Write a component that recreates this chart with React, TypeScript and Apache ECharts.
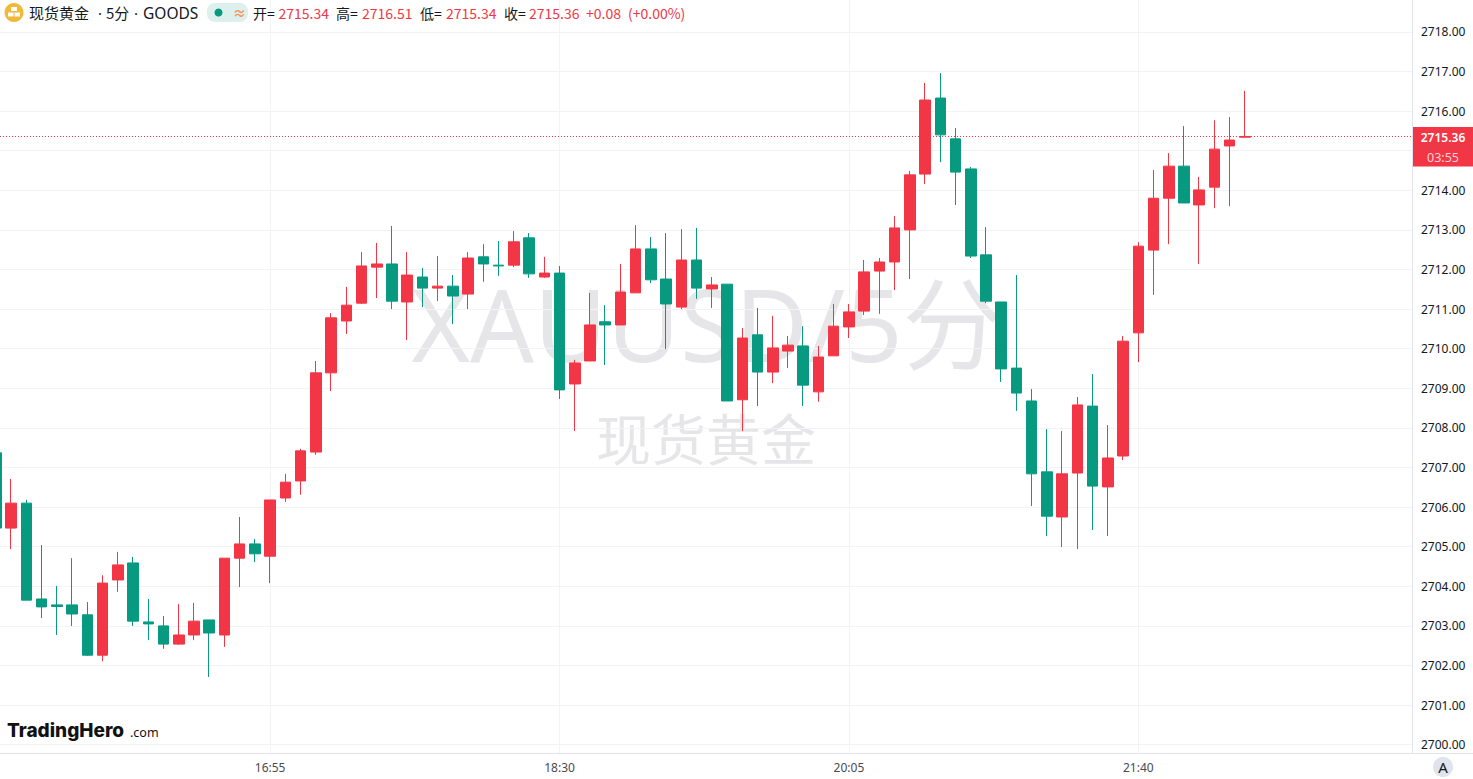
import React, { useEffect, useRef } from "react";
import * as echarts from "echarts";

const opens = [2707.37,2705.47,2706.10,2703.68,2703.53,2703.53,2703.28,2702.26,2704.16,2704.59,2703.10,2703.00,2702.54,2702.77,2703.15,2702.77,2704.71,2705.07,2704.76,2706.23,2706.66,2707.39,2709.39,2710.70,2711.15,2712.06,2712.14,2711.18,2711.81,2711.53,2711.58,2711.38,2712.32,2712.11,2712.11,2712.80,2711.81,2711.91,2709.11,2709.69,2710.68,2710.60,2711.41,2712.52,2711.76,2711.05,2712.24,2711.51,2711.63,2708.71,2710.35,2709.41,2709.94,2710.07,2708.91,2709.82,2710.55,2710.95,2711.96,2712.19,2713.00,2714.41,2716.33,2715.30,2714.54,2712.37,2711.18,2709.51,2708.68,2706.89,2705.75,2706.86,2708.55,2706.51,2707.29,2710.40,2712.49,2713.80,2714.61,2713.63,2714.08,2715.12,2715.34];
const closes = [2705.47,2706.10,2703.65,2703.48,2703.49,2703.30,2702.26,2704.08,2704.54,2703.12,2703.05,2702.54,2702.77,2703.12,2702.82,2704.71,2705.07,2704.82,2706.18,2706.63,2707.42,2709.39,2710.78,2711.10,2712.09,2712.14,2711.20,2711.86,2711.53,2711.58,2711.33,2712.29,2712.14,2712.09,2712.70,2711.89,2711.91,2708.96,2709.64,2710.60,2710.60,2711.43,2712.52,2711.74,2711.13,2712.24,2711.53,2711.61,2708.68,2710.27,2709.41,2710.02,2710.09,2709.08,2709.79,2710.57,2710.93,2711.94,2712.19,2713.05,2714.39,2716.28,2715.40,2714.46,2712.34,2711.20,2709.49,2708.88,2706.84,2705.77,2706.84,2708.58,2706.53,2707.24,2710.19,2712.59,2713.80,2714.61,2713.68,2714.01,2715.04,2715.27,2715.36];
const lows = [2705.47,2704.94,2703.65,2703.20,2702.77,2703.00,2702.24,2702.11,2703.86,2703.00,2702.64,2702.42,2702.52,2702.64,2701.71,2702.47,2703.98,2704.61,2704.08,2706.13,2706.31,2707.32,2708.93,2710.37,2711.13,2711.28,2711.00,2710.22,2711.05,2711.20,2710.62,2711.00,2711.69,2711.84,2712.06,2711.79,2711.79,2708.73,2707.92,2709.69,2709.59,2710.60,2711.41,2711.66,2709.99,2711.00,2711.26,2711.03,2708.68,2707.92,2708.55,2709.13,2709.51,2708.55,2708.66,2709.82,2710.27,2710.85,2710.88,2711.48,2711.76,2714.16,2714.71,2713.63,2712.29,2711.15,2709.16,2708.43,2706.03,2705.27,2704.99,2704.94,2705.42,2705.27,2707.19,2709.66,2711.36,2712.64,2713.68,2712.14,2713.55,2713.60,2715.34];
const highs = [2707.37,2706.71,2706.18,2705.04,2704.01,2704.71,2703.60,2704.28,2704.87,2704.74,2703.68,2703.25,2703.55,2703.58,2703.15,2704.71,2705.75,2705.19,2706.18,2706.84,2707.47,2709.69,2710.90,2711.56,2712.44,2712.67,2713.10,2712.44,2712.04,2712.34,2711.86,2712.44,2712.64,2712.72,2712.97,2712.92,2712.32,2712.09,2709.72,2711.41,2711.10,2712.14,2713.12,2712.82,2712.92,2713.02,2713.05,2711.81,2711.63,2710.52,2711.03,2710.83,2710.32,2710.57,2710.07,2711.13,2711.13,2712.24,2712.29,2713.35,2714.49,2716.71,2716.96,2715.57,2714.59,2713.07,2711.18,2711.86,2708.98,2707.97,2707.92,2708.78,2709.36,2708.07,2710.32,2712.69,2714.51,2714.94,2715.62,2714.34,2715.77,2715.85,2716.51];

const timeTickIndexes = [18, 37, 56, 75];
const timeTickLabels = ["16:55", "18:30", "20:05", "21:40"];
const priceTicks = [2700,2701,2702,2703,2704,2705,2706,2707,2708,2709,2710,2711,2712,2713,2714,2715,2716,2717,2718];
const priceLabels = [2700,2701,2702,2703,2704,2705,2706,2707,2708,2709,2710,2711,2712,2713,2714,2716,2717,2718];
const lastPrice = 2715.36;

const RED = "#F23645";
const GREEN = "#089981";
const FONT = '"Noto Sans", "Noto Sans CJK SC", sans-serif';
const HEADER_FONT = '"Noto Sans CJK SC", "Noto Sans", sans-serif';

function t(text: string, x: number, y: number, fill: string, fontSize: number, extra: any = {}) {
  return {
    type: "text",
    x,
    y,
    z: 100,
    silent: true,
    style: { text, fill, fontSize, fontFamily: HEADER_FONT, verticalAlign: "middle", ...extra },
  };
}

export default function App() {
  const ref = useRef<HTMLDivElement>(null);
  useEffect(() => {
    const chart = echarts.init(ref.current!, undefined, { renderer: "svg" });
    const data = opens.map((o, i) => [i, o, closes[i], lows[i], highs[i]]);
    chart.setOption({
      animation: false,
      backgroundColor: "#ffffff",
      grid: { left: 0, top: 0, width: 1412, height: 753, containLabel: false },
      xAxis: {
        type: "value",
        min: 0.263,
        max: 92.97,
        axisLine: { show: true, onZero: false, lineStyle: { color: "#e0e3eb", width: 1 } },
        axisTick: { show: false, customValues: timeTickIndexes },
        splitLine: { show: true, lineStyle: { color: "#f2f3f6", width: 1 } },
        axisLabel: {
          customValues: timeTickIndexes,
          color: "#4a4a4f",
          fontSize: 12,
          fontFamily: FONT,
          margin: 8,
          formatter: (v: number) => timeTickLabels[timeTickIndexes.indexOf(v)] ?? "",
        },
      },
      yAxis: {
        type: "value",
        position: "right",
        min: 2699.79,
        max: 2718.806,
        scale: true,
        axisLine: { show: true, lineStyle: { color: "#e0e3eb", width: 1 } },
        axisTick: { show: false, customValues: priceTicks },
        splitLine: { show: true, lineStyle: { color: "#f2f3f6", width: 1 } },
        axisLabel: {
          customValues: priceLabels,
          color: "#131722",
          fontSize: 12,
          fontFamily: FONT,
          margin: 9,
          align: "left",
          padding: [2, 0, 0, 0],
          formatter: (v: number) => v.toFixed(2),
        },
      },
      series: [
        {
          type: "candlestick",
          barWidth: 11,
          clip: true,
          encode: { x: 0, y: [1, 2, 3, 4] },
          itemStyle: { color: RED, color0: GREEN, borderColor: RED, borderColor0: GREEN, borderWidth: 1 },
          data,
          markLine: {
            silent: true,
            symbol: "none",
            label: { show: false },
            lineStyle: { color: RED, type: [1, 2], width: 1 },
            data: [{ yAxis: lastPrice }],
          },
        },
      ],
      graphic: [
        { type: "text", x: 707, y: 323, z: -1, silent: true, style: { text: "XAUUSD/5分", fill: "#e6e6e8", fontSize: 100, fontFamily: FONT, align: "center", verticalAlign: "middle" } },
        { type: "text", x: 706, y: 436, z: -1, silent: true, style: { text: "现货黄金", fill: "#e6e6e8", fontSize: 55, fontFamily: HEADER_FONT, align: "center", verticalAlign: "middle" } },

        { type: "line", z: 50, silent: true, shape: { x1: 1412, y1: 753.5, x2: 1473, y2: 753.5 }, style: { stroke: "#e0e3eb", lineWidth: 1 } },

        { type: "circle", z: 100, silent: true, shape: { cx: 14, cy: 12.5, r: 9.5 }, style: { fill: "#F0B93A" } },
        { type: "rect", z: 101, silent: true, shape: { x: 11, y: 7, width: 6, height: 4 }, style: { fill: "#ffffff" } },
        { type: "rect", z: 101, silent: true, shape: { x: 8, y: 12.5, width: 5.5, height: 4 }, style: { fill: "#ffffff" } },
        { type: "rect", z: 101, silent: true, shape: { x: 14.5, y: 12.5, width: 5.5, height: 4 }, style: { fill: "#ffffff" } },
        t("现货黄金", 29, 12.5, "#131722", 15),
        t("·", 100, 12.5, "#131722", 15, { fontFamily: '"Noto Sans", sans-serif', align: "center" }),
        t("5分", 106, 12.5, "#131722", 15),
        t("·", 136, 12.5, "#131722", 15, { fontFamily: '"Noto Sans", sans-serif', align: "center" }),
        t("GOODS", 143, 12.5, "#131722", 15.5, { fontFamily: '"Noto Sans", sans-serif' }),
        { type: "rect", z: 100, silent: true, shape: { x: 207, y: 3, width: 41, height: 19, r: 8 }, style: { fill: "#DDF0ED" } },
        { type: "circle", z: 101, silent: true, shape: { cx: 218.5, cy: 12.5, r: 4 }, style: { fill: GREEN } },
        t("≈", 233, 12.5, "#F7925A", 13, { fontWeight: "bold" }),
        t("开=", 253, 12.5, "#131722", 14),
        t("2715.34", 278.5, 12.5, RED, 14),
        t("高=", 336, 12.5, "#131722", 14),
        t("2716.51", 362, 12.5, RED, 14),
        t("低=", 420, 12.5, "#131722", 14),
        t("2715.34", 446, 12.5, RED, 14),
        t("收=", 504, 12.5, "#131722", 14),
        t("2715.36", 529, 12.5, RED, 14),
        t("+0.08", 586, 12.5, RED, 14),
        t("(+0.00%)", 628, 12.5, RED, 14),

        { type: "rect", z: 100, silent: true, shape: { x: 1413, y: 127, width: 60, height: 39.5 }, style: { fill: RED } },
        { type: "line", z: 101, silent: true, shape: { x1: 1413, y1: 147, x2: 1473, y2: 147 }, style: { stroke: "#d9404e", lineWidth: 1 } },
        { type: "text", z: 102, x: 1443, y: 137.5, silent: true, style: { text: "2715.36", fill: "#ffffff", fontSize: 12, fontWeight: 600, fontFamily: FONT, align: "center", verticalAlign: "middle" } },
        { type: "text", z: 102, x: 1443, y: 157, silent: true, style: { text: "03:55", fill: "#fcd3d7", fontSize: 12.5, fontFamily: FONT, align: "center", verticalAlign: "middle" } },

        { type: "circle", z: 100, silent: true, shape: { cx: 1443, cy: 767, r: 10 }, style: { fill: "#E0E3EB" } },
        { type: "text", z: 101, x: 1443, y: 767, silent: true, style: { text: "A", fill: "#131722", fontSize: 15, fontFamily: FONT, align: "center", verticalAlign: "middle" } },

        { type: "text", z: 100, x: 7, y: 730, silent: true, style: { text: "TradingHero", fill: "#111111", fontSize: 19, fontWeight: 800, fontFamily: '"Inter", "Lato", "Noto Sans", sans-serif', verticalAlign: "middle" } },
        { type: "text", z: 100, x: 130, y: 732.5, silent: true, style: { text: ".com", fill: "#111111", fontSize: 12.5, fontFamily: FONT, verticalAlign: "middle" } },
      ],
    });
    return () => chart.dispose();
  }, []);
  return <div ref={ref} style={{ position: "absolute", left: 0, top: 0, width: 1473, height: 779 }} />;
}
